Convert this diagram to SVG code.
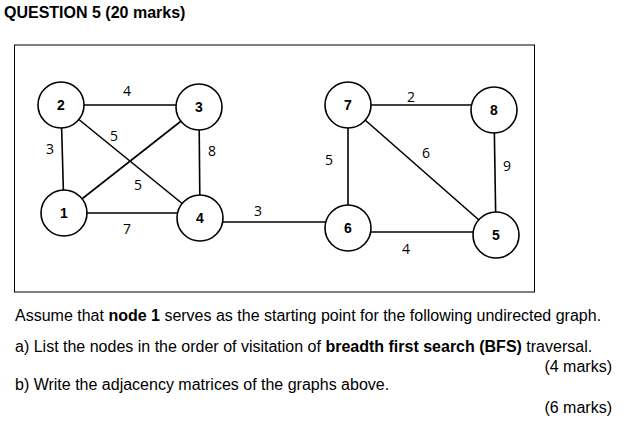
<svg xmlns="http://www.w3.org/2000/svg" width="629" height="429" viewBox="0 0 629 429">
<style>
.t{font-family:"Liberation Sans",Arial,sans-serif;font-size:16px;fill:#000}
.n circle{fill:#fff;stroke:#000;stroke-width:1.6}
.n text{font-family:"Liberation Sans",Arial,sans-serif;font-size:14px;font-weight:bold;text-anchor:middle}
.w{font-family:"Open Sans","Liberation Sans",sans-serif;font-size:14px;text-anchor:middle}
#edges line{stroke:#000;stroke-width:1.6}
</style>
<rect width="629" height="429" fill="#fff"/>
<text class="t" x="4" y="18" font-weight="bold">QUESTION 5 (20 marks)</text>
<rect x="14.5" y="45" width="520" height="247" fill="none" stroke="#000" stroke-width="1"/>
<g id="edges">
<line x1="61" y1="105" x2="199" y2="105"/>
<line x1="61" y1="105" x2="64" y2="213"/>
<line x1="61" y1="105" x2="200" y2="218"/>
<line x1="64" y1="213" x2="199" y2="107"/>
<line x1="64" y1="213" x2="200" y2="213"/>
<line x1="199" y1="107" x2="200" y2="218"/>
<line x1="200" y1="222" x2="348" y2="222"/>
<line x1="348" y1="105" x2="494" y2="105"/>
<line x1="348" y1="105" x2="348" y2="228"/>
<line x1="348" y1="105" x2="496" y2="235"/>
<line x1="494" y1="110" x2="496" y2="235"/>
<line x1="348" y1="232" x2="496" y2="232"/>
</g>
<g class="w">
<text x="127" y="96">4</text><text x="114" y="141">5</text><text x="50" y="154">3</text>
<text x="212" y="156">8</text><text x="138" y="190">5</text><text x="127" y="234">7</text>
<text x="258" y="216">3</text><text x="411" y="102">2</text><text x="426" y="158">6</text>
<text x="329" y="165">5</text><text x="507" y="171">9</text><text x="406" y="254">4</text>
</g>
<g id="n2" class="n"><circle cx="61" cy="105" r="23"/><text x="61" y="110">2</text></g>
<g id="n3" class="n"><circle cx="199" cy="107" r="23"/><text x="199" y="112">3</text></g>
<g id="n1" class="n"><circle cx="64" cy="213" r="23"/><text x="64" y="218">1</text></g>
<g id="n4" class="n"><circle cx="200" cy="218" r="23"/><text x="200" y="223">4</text></g>
<g id="n7" class="n"><circle cx="348" cy="105" r="23"/><text x="348" y="110">7</text></g>
<g id="n8" class="n"><circle cx="494" cy="110" r="23"/><text x="494" y="115">8</text></g>
<g id="n6" class="n"><circle cx="348" cy="228" r="23"/><text x="348" y="233">6</text></g>
<g id="n5" class="n"><circle cx="496" cy="235" r="23"/><text x="496" y="240">5</text></g>
<text class="t" x="15" y="321">Assume that <tspan font-weight="bold">node 1</tspan> serves as the starting point for the following undirected graph.</text>
<text class="t" x="15" y="352">a)  List the nodes in the order of visitation of <tspan font-weight="bold">breadth first search (BFS)</tspan> traversal.</text>
<text class="t" x="612" y="372" text-anchor="end">(4 marks)</text>
<text class="t" x="15" y="390">b)  Write the adjacency matrices of the graphs above.</text>
<text class="t" x="612" y="413" text-anchor="end">(6 marks)</text>
</svg>
